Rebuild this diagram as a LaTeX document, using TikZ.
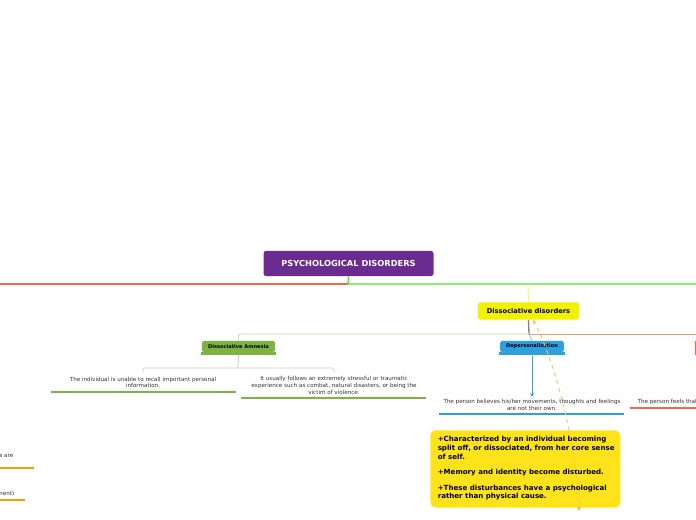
\documentclass[tikz,border=0pt]{standalone}
\usepackage{fontspec}
\setmainfont{DejaVu Sans}
\usetikzlibrary{arrows.meta}
\definecolor{purp}{HTML}{6A2C91}
\definecolor{ylw}{HTML}{F2F200}
\definecolor{gr}{HTML}{7CB342}
\definecolor{bl}{HTML}{2EA0E0}
\definecolor{note}{HTML}{FFE31A}
\definecolor{orng}{HTML}{FF9800}
\definecolor{redl}{HTML}{F06A50}
\definecolor{grn}{HTML}{44EE22}
\definecolor{sal}{HTML}{F0A070}
\definecolor{txt}{HTML}{333333}
\tikzset{
 box/.style={rounded corners=2pt,inner sep=0pt},
 small/.style={font=\fontsize{4.2}{5}\selectfont,text=txt,align=center},
}
\begin{document}
\begin{tikzpicture}[x=0.75pt,y=-0.75pt]
\useasboundingbox[fill=white] (0,0) rectangle (696,520);
% root
\node[box,fill=purp,minimum width=127.5pt,minimum height=19pt,text=white,font=\bfseries\fontsize{6.2}{7}\selectfont] (root) at (348.5,263.5) {PSYCHOLOGICAL DISORDERS};
\coordinate (rj) at (348,284);
\coordinate (rl) at (0,284);
\coordinate (rr) at (696,284);
\draw[grn,line width=1pt] (root.south) -- (rj) -- (rr);
\draw[redl,line width=1pt] (rj) -- (rl);
% dissociative
\node[box,fill=ylw,minimum width=76pt,minimum height=13pt,font=\bfseries\fontsize{5}{6}\selectfont] (dd) at (528.5,311) {Dissociative disorders};
\draw[ylw!70!white,line width=0.6pt] (528,284) -- (dd.north);
\coordinate (dj) at (529,334);
\draw[gray!70!brown,line width=1pt] (dd.south) -- (dj);
\draw[sal,line width=0.7pt] (dj) -- (696,334);
% amnesia
\node[box,fill=gr,minimum width=55pt,minimum height=8.5pt,font=\bfseries\fontsize{3.8}{4.5}\selectfont] (am) at (238.5,346.5) {Dissociative Amnesia};
\draw[gr,line width=2pt] (201,353.5) -- (276,353.5);
\draw[gr!50!white,line width=0.6pt,rounded corners=2pt] (dj) -- (238,334) -- (am.north);
% depersonalization
\node[box,fill=bl,minimum width=48pt,minimum height=8.5pt,font=\bfseries\fontsize{3.8}{4.5}\selectfont] (dp) at (532,346.5) {Depersonalization};
\draw[bl,line width=2pt] (499,353.5) -- (565,353.5);
\draw[bl!60!white,line width=0.6pt] (dj) -- (dp.north);
% cut off red node
\fill[redl] (694.5,341) rectangle (696,355);
% amnesia children
\node[small] (t1) at (143,382.5) {The individual is unable to recall important personal\\information.};
\node[small] (t2) at (334,385.5) {It usually follows an extremely stressful or traumatic\\experience such as combat, natural disasters, or being the\\victim of violence.};
\draw[gr,line width=2pt] (51,392) -- (236,392);
\draw[gr,line width=2pt] (241,398) -- (426,398);
\draw[gr!50!white,line width=0.6pt,rounded corners=1pt] (am.south) ++(0,2) -- (238,368);
\draw[gr!50!white,line width=0.6pt,rounded corners=1pt] (143,372) -- (143,368) -- (334,368) -- (334,372);
% depersonalization child
\node[small] (t3) at (532,405) {The person believes his/her movements, thoughts and feelings\\are not their own.};
\draw[bl,line width=2pt] (439,414) -- (624,414);
\draw[bl,line width=0.7pt,-{Stealth[length=3pt,width=3pt]}] (532,356) -- (532,397);
% right partial
\node[small,anchor=west] (t4) at (633,402) {The person feels that t};
\draw[redl,line width=2pt] (630,408) -- (696,408);
% left partials
\node[small,anchor=east] (t5) at (18,456) {ss are};
\draw[orng,line width=2pt] (-2,468) -- (34,468);
\node[small,anchor=east] (t6) at (19,494) {pment)};
\draw[orng,line width=2pt] (-2,500) -- (25,500);
% note
\node[box,fill=note,rounded corners=4pt,minimum width=142.5pt,minimum height=58pt,anchor=north west] (nt) at (430,430) {};
\node[anchor=north west,align=left,font=\bfseries\fontsize{5.3}{6.6}\selectfont,inner sep=0pt] (ntt) at (437.5,436) {+Characterized by an individual becoming\\split off, or dissociated, from her core sense\\of self.\\[5pt]+Memory and identity become disturbed.\\[5pt]+These disturbances have a psychological\\rather than physical cause.};
\coordinate (nb) at (579,510);
\draw[orng!60!white,dashed,line width=0.7pt,-{Stealth[length=3pt,width=3pt]}] (nb) .. controls (575,420) and (545,340) .. (533,320);
\fill[orng!70!white] (577,507) -- (581,507) -- (579,511) -- cycle;
\end{tikzpicture}
\end{document}
